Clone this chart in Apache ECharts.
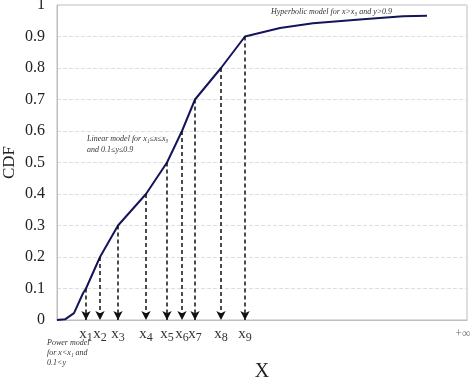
<!DOCTYPE html>
<html>
<head>
<meta charset="utf-8">
<script src="https://cdn.jsdelivr.net/npm/echarts@6/dist/echarts.min.js"></script>
<style>
  html, body { margin: 0; padding: 0; background: #fff; }
  #chart { width: 474px; height: 377px; }
</style>
</head>
<body>
<div id="chart"></div>
<script>
// CDF curve (x in arbitrary units along the axis, y = cumulative probability)
const curveX = [0, 8, 17, 26, 29, 43, 61, 89, 110, 125, 138, 164, 188, 223, 256, 306, 346, 370];
const curveY = [0, 0.002, 0.022, 0.085, 0.1, 0.2, 0.3, 0.4, 0.5, 0.6, 0.7, 0.8, 0.9, 0.927, 0.942, 0.955, 0.964, 0.966];

// break points x1..x9 and their CDF levels
const breakX = [29, 43, 61, 89, 110, 125, 138, 164, 188];
const breakY = [0.1, 0.2, 0.3, 0.4, 0.5, 0.6, 0.7, 0.8, 0.9];
const breakNames = ['1', '2', '3', '4', '5', '6', '7', '8', '9'];
const infX = 406;

const serif = '"Liberation Serif", "DejaVu Serif", serif';

const chart = echarts.init(document.getElementById('chart'));

const tickLabels = {};
breakX.forEach((v, i) => { tickLabels[v] = '{x|x}{s|' + breakNames[i] + '}'; });
tickLabels[infX] = '{inf|+∞}';

const arrows = breakX.map((v, i) => [
  { coord: [v, breakY[i]] },
  { coord: [v, 0] }
]);

const option = {
  animation: false,
  grid: {
    left: 57, right: 7, top: 5, bottom: 57,
    outerBoundsMode: 'none',
    show: true, borderColor: '#bdbdbd', borderWidth: 1
  },
  xAxis: {
    type: 'value',
    min: 0, max: 410,
    name: 'X',
    nameLocation: 'middle',
    nameMoveOverlap: false,
    nameGap: 42,
    nameTextStyle: { fontFamily: serif, fontSize: 20, color: '#222' },
    axisLine: { lineStyle: { color: '#bdbdbd' } },
    axisTick: { show: false },
    splitLine: { show: false },
    axisLabel: {
      customValues: breakX.concat([infX]),
      margin: 5,
      formatter: v => tickLabels[v] || '',
      rich: {
        x: { fontFamily: serif, fontSize: 15, color: '#333', lineHeight: 17, verticalAlign: 'bottom' },
        s: { fontFamily: serif, fontSize: 12, color: '#333', lineHeight: 17, verticalAlign: 'bottom', padding: [0, 0, -2, 0] },
        inf: { fontFamily: serif, fontSize: 12, color: '#777', lineHeight: 17 }
      }
    }
  },
  yAxis: {
    type: 'value',
    min: 0, max: 1, interval: 0.1,
    name: 'CDF',
    nameLocation: 'middle',
    nameRotate: 90,
    nameMoveOverlap: false,
    nameGap: 39,
    nameTextStyle: { fontFamily: serif, fontSize: 17, color: '#222' },
    axisLine: { show: true, lineStyle: { color: '#bdbdbd' } },
    axisTick: { show: false },
    axisLabel: {
      fontFamily: serif, fontSize: 16, color: '#222', margin: 12,
      formatter: v => (v === 0 || v === 1) ? String(v) : v.toFixed(1)
    },
    splitLine: { lineStyle: { color: '#dedede', type: 'dashed' } }
  },
  series: [{
    type: 'line',
    data: curveX.map((x, i) => [x, curveY[i]]),
    showSymbol: false,
    lineStyle: { color: '#14145a', width: 2 },
    markLine: {
      silent: true,
      symbol: ['none', 'arrow'],
      symbolSize: [7, 9],
      label: { show: false },
      lineStyle: { color: '#111', type: [4, 3], width: 1.5 },
      data: arrows
    }
  }],
  graphic: [
    {
      type: 'text', left: 271, top: 8,
      style: {
        text: 'Hyperbolic model for x>x₉ and y>0.9',
        font: 'italic 8px ' + serif, fill: '#333'
      }
    },
    {
      type: 'text', left: 87, top: 133,
      style: {
        text: 'Linear model for x₁≤x≤x₉\nand 0.1≤y≤0.9',
        font: 'italic 8px ' + serif, fill: '#333', lineHeight: 11
      }
    },
    {
      type: 'text', left: 47, top: 338,
      style: {
        text: 'Power model\nfor x<x₁ and\n0.1<y',
        font: 'italic 8px ' + serif, fill: '#333', lineHeight: 10
      }
    }
  ]
};

chart.setOption(option);
</script>
</body>
</html>
